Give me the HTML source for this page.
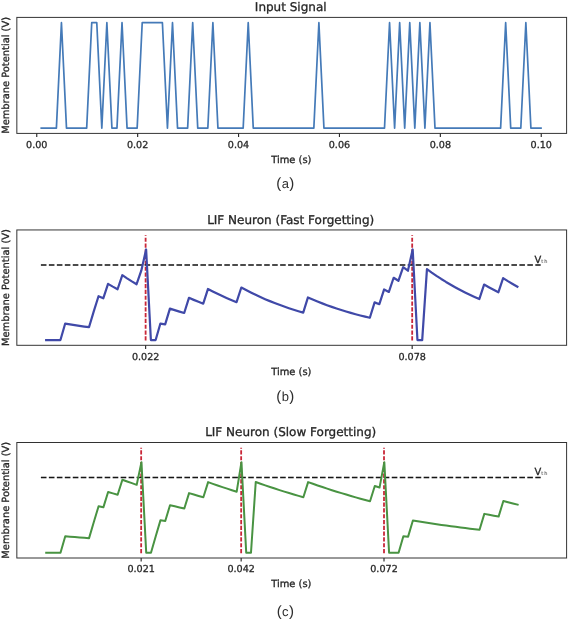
<!DOCTYPE html>
<html><head><meta charset="utf-8"><title>LIF Neuron</title>
<style>
html,body{margin:0;padding:0;background:#fff;}
svg{display:block;}
text{font-family:"DejaVu Sans", "Liberation Sans", sans-serif;fill:#262626;stroke:#262626;stroke-width:0.3px;text-rendering:geometricPrecision;}
.tk{font-size:9.6px;}
.lb{font-size:9.9px;}
.tt{font-size:12px;}
.sub{font-size:5px;fill:#6a6a6a;stroke:#6a6a6a;stroke-width:0.15px;letter-spacing:1px;}
.cap{font-family:"Liberation Sans", "DejaVu Sans", sans-serif;font-size:13px;fill:#2e2e2e;stroke:none;}
.par{font-size:15px;}
</style></head><body>
<svg width="570" height="620" viewBox="0 0 570 620">
<defs><filter id="soft" x="0" y="0" width="570" height="620" filterUnits="userSpaceOnUse"><feGaussianBlur stdDeviation="0.4"/></filter></defs>
<rect width="570" height="620" fill="#fff"/>
<g filter="url(#soft)">
<polyline points="41.25,128.13 46.3,128.13 51.34,128.13 56.39,128.13 61.44,22.67 66.49,128.13 71.54,128.13 76.58,128.13 81.63,128.13 86.68,128.13 91.73,22.67 96.78,22.67 101.82,128.13 106.87,22.67 111.92,128.13 116.97,128.13 122.02,22.67 127.06,128.13 132.11,128.13 137.16,128.13 142.21,22.67 147.26,22.67 152.3,22.67 157.35,22.67 162.4,22.67 167.45,128.13 172.5,22.67 177.54,128.13 182.59,128.13 187.64,128.13 192.69,22.67 197.74,128.13 202.78,128.13 207.83,128.13 212.88,22.67 217.93,128.13 222.98,128.13 228.02,128.13 233.07,128.13 238.12,128.13 243.17,128.13 248.22,22.67 253.26,128.13 258.31,128.13 263.36,128.13 268.41,128.13 273.46,128.13 278.5,128.13 283.55,128.13 288.6,128.13 293.65,128.13 298.7,128.13 303.74,128.13 308.79,128.13 313.84,128.13 318.89,22.67 323.94,128.13 328.98,128.13 334.03,128.13 339.08,128.13 344.13,128.13 349.18,128.13 354.22,128.13 359.27,128.13 364.32,128.13 369.37,128.13 374.42,128.13 379.46,128.13 384.51,128.13 389.56,22.67 394.61,128.13 399.66,22.67 404.7,128.13 409.75,22.67 414.8,128.13 419.85,22.67 424.9,128.13 429.94,22.67 434.99,128.13 440.04,128.13 445.09,128.13 450.14,128.13 455.18,128.13 460.23,128.13 465.28,128.13 470.33,128.13 475.38,128.13 480.42,128.13 485.47,128.13 490.52,128.13 495.57,128.13 500.62,128.13 505.66,22.67 510.71,128.13 515.76,128.13 520.81,128.13 525.86,22.67 530.9,128.13 535.95,128.13 541,128.13" fill="none" stroke="#447ab8" stroke-width="1.7" stroke-linejoin="round" stroke-linecap="square"/>
<rect x="16.84" y="17.4" width="549.76" height="116" fill="none" stroke="#333" stroke-width="1"/>
<line x1="36.75" y1="133.4" x2="36.75" y2="137" stroke="#2a2a2a" stroke-width="1.15"/>
<text x="36.75" y="148" text-anchor="middle" class="tk">0.00</text>
<line x1="137.65" y1="133.4" x2="137.65" y2="137" stroke="#2a2a2a" stroke-width="1.15"/>
<text x="137.65" y="148" text-anchor="middle" class="tk">0.02</text>
<line x1="238.55" y1="133.4" x2="238.55" y2="137" stroke="#2a2a2a" stroke-width="1.15"/>
<text x="238.55" y="148" text-anchor="middle" class="tk">0.04</text>
<line x1="339.45" y1="133.4" x2="339.45" y2="137" stroke="#2a2a2a" stroke-width="1.15"/>
<text x="339.45" y="148" text-anchor="middle" class="tk">0.06</text>
<line x1="440.35" y1="133.4" x2="440.35" y2="137" stroke="#2a2a2a" stroke-width="1.15"/>
<text x="440.35" y="148" text-anchor="middle" class="tk">0.08</text>
<line x1="541.25" y1="133.4" x2="541.25" y2="137" stroke="#2a2a2a" stroke-width="1.15"/>
<text x="541.25" y="148" text-anchor="middle" class="tk">0.10</text>
<text x="290.72" y="11.2" text-anchor="middle" class="tt">Input Signal</text>
<text x="291.32" y="162.7" text-anchor="middle" class="lb">Time (s)</text>
<text transform="translate(8.9,75.4) rotate(-90)" text-anchor="middle" class="lb">Membrane Potential (V)</text>
<text x="285.3" y="188.2" text-anchor="middle" class="cap"><tspan class="par">(</tspan><tspan dx="0.4">a</tspan><tspan class="par" dx="0.4">)</tspan></text>
<line x1="145.62" y1="340.46" x2="145.62" y2="235.19" stroke="#c92738" stroke-width="1.8" stroke-dasharray="4.2 1.6"/>
<line x1="412.18" y1="340.46" x2="412.18" y2="235.19" stroke="#c92738" stroke-width="1.8" stroke-dasharray="4.2 1.6"/>
<line x1="40.9" y1="264.96" x2="540.7" y2="264.96" stroke="#161616" stroke-width="1.55" stroke-dasharray="5.6 2.374"/>
<polyline points="46.16,340.06 50.92,340.06 55.68,340.06 60.44,340.06 65.2,323.56 69.96,324.36 74.72,325.12 79.48,325.85 84.24,326.54 89,327.2 93.76,311.33 98.52,296.23 103.28,298.36 108.04,283.89 112.8,286.63 117.56,289.23 122.32,275.2 127.08,278.36 131.84,281.37 136.6,284.23 141.36,270.44 146.12,249.46 150.88,340.06 155.64,340.06 160.4,323.56 165.16,324.36 169.92,308.62 174.68,310.16 179.44,311.61 184.2,313 188.96,297.81 193.72,299.87 198.48,301.83 203.24,303.69 208,288.96 212.76,291.45 217.52,293.82 222.28,296.07 227.04,298.21 231.8,300.25 236.56,302.19 241.32,287.53 246.08,290.09 250.84,292.52 255.6,294.84 260.36,297.04 265.12,299.14 269.88,301.13 274.64,303.02 279.4,304.83 284.16,306.54 288.92,308.18 293.68,309.73 298.44,311.2 303.2,312.61 307.96,297.45 312.72,299.52 317.48,301.5 322.24,303.37 327,305.16 331.76,306.86 336.52,308.48 341.28,310.01 346.04,311.48 350.8,312.87 355.56,314.19 360.32,315.45 365.08,316.65 369.84,317.79 374.6,302.38 379.36,304.21 384.12,289.46 388.88,291.92 393.64,277.76 398.4,280.8 403.16,267.18 407.92,270.73 412.68,249.46 417.44,340.06 422.2,340.06 426.96,269.08 431.72,272.53 436.48,275.82 441.24,278.95 446,281.93 450.76,284.76 455.52,287.45 460.28,290.01 465.04,292.45 469.8,294.77 474.56,296.97 479.32,299.07 484.08,284.57 488.84,287.27 493.6,289.84 498.36,292.29 503.12,278.11 507.88,281.13 512.64,284 517.4,286.73" fill="none" stroke="#3f49a8" stroke-width="2.2" stroke-linejoin="round" stroke-linecap="square"/>
<rect x="16.84" y="229.95" width="549.76" height="115.35" fill="none" stroke="#333" stroke-width="1"/>
<line x1="145.62" y1="345.3" x2="145.62" y2="348.9" stroke="#2a2a2a" stroke-width="1.15"/>
<text x="145.62" y="360" text-anchor="middle" class="tk">0.022</text>
<line x1="412.18" y1="345.3" x2="412.18" y2="348.9" stroke="#2a2a2a" stroke-width="1.15"/>
<text x="412.18" y="360" text-anchor="middle" class="tk">0.078</text>
<text x="290.72" y="223.75" text-anchor="middle" class="tt">LIF Neuron (Fast Forgetting)</text>
<text x="291.32" y="374.6" text-anchor="middle" class="lb">Time (s)</text>
<text transform="translate(8.9,287.62) rotate(-90)" text-anchor="middle" class="lb">Membrane Potential (V)</text>
<text x="534.5" y="263" class="lb">V<tspan class="sub" dx="0.1">th</tspan></text>
<text x="285.3" y="400.9" text-anchor="middle" class="cap"><tspan class="par">(</tspan><tspan dx="0.4">b</tspan><tspan class="par" dx="0.4">)</tspan></text>
<line x1="141.15" y1="553.15" x2="141.15" y2="447.75" stroke="#c92738" stroke-width="1.8" stroke-dasharray="4.2 1.6"/>
<line x1="241.15" y1="553.15" x2="241.15" y2="447.75" stroke="#c92738" stroke-width="1.8" stroke-dasharray="4.2 1.6"/>
<line x1="384.01" y1="553.15" x2="384.01" y2="447.75" stroke="#c92738" stroke-width="1.8" stroke-dasharray="4.2 1.6"/>
<line x1="40.9" y1="477.45" x2="540.7" y2="477.45" stroke="#161616" stroke-width="1.55" stroke-dasharray="5.6 2.374"/>
<polyline points="46.21,552.75 50.97,552.75 55.74,552.75 60.5,552.75 65.26,536.25 70.02,536.65 74.78,537.03 79.55,537.41 84.31,537.78 89.07,538.14 93.83,521.99 98.59,506.23 103.36,507.34 108.12,491.93 112.88,493.39 117.64,494.82 122.4,479.71 127.17,481.46 131.93,483.17 136.69,484.84 141.45,462.15 146.21,552.75 150.98,552.75 155.74,536.25 160.5,520.15 165.26,520.93 170.02,505.19 174.79,506.33 179.55,507.45 184.31,508.53 189.07,493.1 193.83,494.53 198.6,495.93 203.36,497.29 208.12,482.12 212.88,483.82 217.64,485.47 222.41,487.08 227.17,488.66 231.93,490.2 236.69,491.7 241.45,462.15 246.22,552.75 250.98,552.75 255.74,482.01 260.5,483.71 265.26,485.37 270.03,486.98 274.79,488.56 279.55,490.1 284.31,491.61 289.07,493.07 293.84,494.51 298.6,495.9 303.36,497.27 308.12,482.1 312.88,483.8 317.65,485.45 322.41,487.07 327.17,488.64 331.93,490.18 336.69,491.68 341.46,493.15 346.22,494.58 350.98,495.97 355.74,497.34 360.5,498.67 365.27,499.97 370.03,501.23 374.79,485.97 379.55,487.57 384.31,462.15 389.08,552.75 393.84,552.75 398.6,552.75 403.36,536.25 408.12,536.65 412.89,520.53 417.65,521.31 422.41,522.06 427.17,522.8 431.93,523.52 436.7,524.22 441.46,524.9 446.22,525.57 450.98,526.22 455.74,526.86 460.51,527.48 465.27,528.09 470.03,528.68 474.79,529.26 479.55,529.82 484.32,513.87 489.08,514.8 493.84,515.71 498.6,516.6 503.36,500.97 508.13,502.21 512.89,503.43 517.65,504.61" fill="none" stroke="#489342" stroke-width="2.0" stroke-linejoin="round" stroke-linecap="square"/>
<rect x="16.84" y="442.5" width="549.76" height="115.5" fill="none" stroke="#333" stroke-width="1"/>
<line x1="141.15" y1="558.0" x2="141.15" y2="561.6" stroke="#2a2a2a" stroke-width="1.15"/>
<text x="141.15" y="572" text-anchor="middle" class="tk">0.021</text>
<line x1="241.15" y1="558.0" x2="241.15" y2="561.6" stroke="#2a2a2a" stroke-width="1.15"/>
<text x="241.15" y="572" text-anchor="middle" class="tk">0.042</text>
<line x1="384.01" y1="558.0" x2="384.01" y2="561.6" stroke="#2a2a2a" stroke-width="1.15"/>
<text x="384.01" y="572" text-anchor="middle" class="tk">0.072</text>
<text x="290.72" y="436.3" text-anchor="middle" class="tt">LIF Neuron (Slow Forgetting)</text>
<text x="291.32" y="587.3" text-anchor="middle" class="lb">Time (s)</text>
<text transform="translate(8.9,500.25) rotate(-90)" text-anchor="middle" class="lb">Membrane Potential (V)</text>
<text x="534.5" y="475" class="lb">V<tspan class="sub" dx="0.1">th</tspan></text>
<text x="285.3" y="616.1" text-anchor="middle" class="cap"><tspan class="par">(</tspan><tspan dx="0.4">c</tspan><tspan class="par" dx="0.4">)</tspan></text>
</g>
</svg>
</body></html>
